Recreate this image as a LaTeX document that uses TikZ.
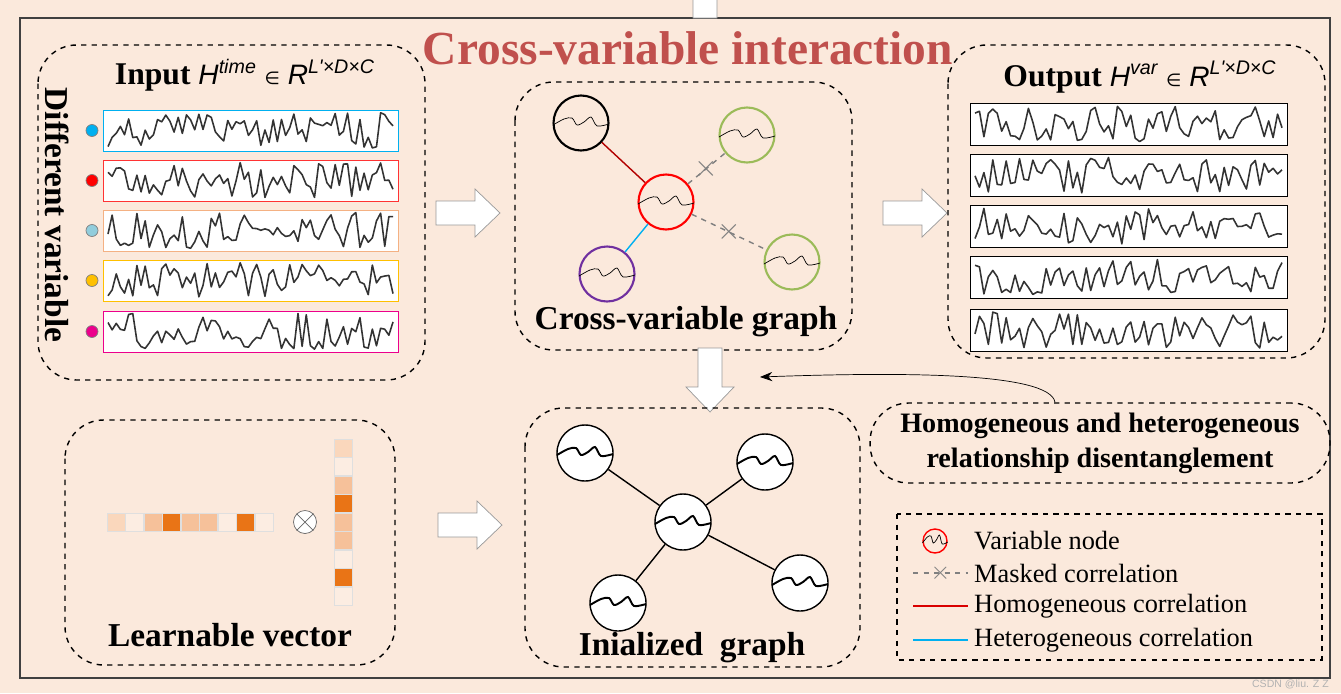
\documentclass[tikz,border=0pt]{standalone}
\usepackage{fontspec}
\setmainfont{Liberation Serif}
\newfontfamily\arialf{Liberation Sans}
\newfontfamily\djv{DejaVu Sans}
\usetikzlibrary{arrows.meta}
\definecolor{bgc}{HTML}{FBE9DC}
\definecolor{titc}{HTML}{C0504D}
\definecolor{cyn}{HTML}{00B0F0}
\definecolor{lorg}{HTML}{F4B183}
\definecolor{ylw}{HTML}{FFC000}
\definecolor{lblu}{HTML}{92CDDC}
\definecolor{grn}{HTML}{9BBB59}
\definecolor{prp}{HTML}{7030A0}
\definecolor{sq1}{HTML}{FAD7BC}
\definecolor{sq2}{HTML}{F6C19A}
\definecolor{sq3}{HTML}{E97416}
\definecolor{sq0}{HTML}{FCEDE2}
\tikzset{
  dbox/.style={draw, dashed, thick, rounded corners=22pt},
  ser/.style={draw, thick, fill=white, anchor=north west, inner sep=0pt},
  vnode/.style={circle, very thick, minimum size=1.1cm, inner sep=0pt},
  inode/.style={circle, draw, thick, fill=white, minimum size=1.12cm, inner sep=0pt},
  lbl/.style={font=\bfseries\fontsize{19}{22}\selectfont},
  sq/.style={draw=gray!25, minimum size=0.36cm, inner sep=0pt},
  barr/.style={draw=gray!80, fill=white},
}
\newcommand{\barrow}[3]{% center x, y, rotation
  \draw[barr, shift={(#1,#2)}, rotate=#3] (-32,-12) -- (7,-12) -- (7,-24) -- (32,0) -- (7,24) -- (7,12) -- (-32,12) -- cycle;}
\newcommand{\zig}[4]{% x0 x1 ycenter seed
  \pgfmathsetmacro{\zz}{#3}
  \pgfmathsetseed{#4}
  \draw[line width=0.9pt, black!80, line join=round] plot[domain=#1:#2, samples=70] (\x, {\zz+18*(2*rnd-1)});}
\newcommand{\wv}[3]{% center x, y, scale
  \draw[line width=0.4pt] plot[smooth] coordinates {(#1-#3*28,#2+2) (#1-#3*17,#2-4) (#1-#3*9,#2-5) (#1-#3*4,#2+2) (#1+#3*3,#2-1) (#1+#3*10,#2-6) (#1+#3*16,#2+3) (#1+#3*28,#2+1)};}
\begin{document}
\begin{tikzpicture}[x=0.02cm,y=-0.02cm]
\fill[bgc] (0,0) rectangle (1341,693);
\useasboundingbox (0,0) rectangle (1341,693);
\draw[thick, black!75] (20,18) rectangle (1330,678);
\barrow{705}{-14}{90}
\fill[bgc] (600,18.7) rectangle (800,40);
\node[text=titc, font=\bfseries\fontsize{27}{30}\selectfont] (title) at (688,48) {Cross-variable interaction};

% input box
\draw[dbox] (38,45) rectangle (425,380);
\node[font=\bfseries\fontsize{18}{20}\selectfont] (intext) at (245,75) {Input \arialf\itshape\mdseries\fontsize{16}{18}\selectfont H\textsuperscript{time} {\djv\upshape\fontsize{10}{12}\selectfont∈} R\textsuperscript{L'×D×C}};
\node[rotate=-90, font=\bfseries\fontsize{19}{22}\selectfont] (diffv) at (57,215) {Different variable};
\foreach \y/\c/\d/\s in {110/cyn/cyn/11, 160/red!80/red/22, 210/lorg/lblu/33, 260/ylw/ylw/44, 311/magenta/magenta/55}{
  \node[ser, draw=\c, minimum width=5.9cm, minimum height=0.82cm] (in\y) at (103,\y) {};
  \zig{108}{393}{\y+20.5}{\s}
  \node[circle, fill=\d, draw=gray, minimum size=0.24cm, inner sep=0pt] (dot\y) at (92,\y+20.5) {};
}
\barrow{468}{213}{0}

% cross-variable graph
\draw[dbox] (515,82) rectangle (852,350);
\node[vnode, draw=black] (gb) at (581,123) {};
\node[vnode, draw=grn] (gg1) at (747,135) {};
\node[vnode, draw=red] (gr) at (666,202) {};
\node[vnode, draw=prp] (gp) at (607,274) {};
\node[vnode, draw=grn] (gg2) at (792,262) {};
\wv{581}{123}{1}\wv{747}{135}{1}\wv{666}{202}{1}\wv{607}{274}{1}\wv{792}{262}{1}
\draw[red!70!black, thick] (gb) -- (gr);
\draw[cyn, thick] (gp) -- (gr);
\draw[gray, dashed, thick] (gr) -- node[font=\fontsize{16}{16}\selectfont, text=gray] {$\times$} (gg1);
\draw[gray, dashed, thick] (gr) -- node[font=\fontsize{16}{16}\selectfont, text=gray] {$\times$} (gg2);
\node[lbl] (cvg) at (686,322) {Cross-variable graph};
\barrow{915}{213}{0}

% output box
\draw[dbox] (948,45) rectangle (1325,358);
\node[font=\bfseries\fontsize{18}{20}\selectfont] (outtext) at (1140,77) {Output \arialf\itshape\mdseries\fontsize{16}{18}\selectfont H\textsuperscript{var} {\djv\upshape\fontsize{10}{12}\selectfont∈} R\textsuperscript{L'×D×C}};
\foreach \y/\s in {103/66, 154/77, 205/88, 256/99, 309/111}{
  \node[ser, draw=black, minimum width=6.34cm, minimum height=0.84cm] (out\y) at (970,\y) {};
  \zig{975}{1282}{\y+21}{\s}
}

% up arrow
\barrow{710}{380}{-90}

% homogeneous
\node[dbox, draw, align=center, font=\bfseries\fontsize{16}{20}\selectfont, minimum width=9.2cm, minimum height=1.6cm] (homo) at (1100,443) {Homogeneous and heterogeneous\\relationship disentanglement};
\draw[-{Stealth[length=7pt]}, thin] (homo.north) ++(-45,0) coordinate (hs) .. controls (1050,372) and (900,372) .. (760,377);

% learnable vector
\draw[dbox] (65,420) rectangle (395,665);
\foreach \i/\c in {0/sq1,1/sq0,2/sq2,3/sq3,4/sq2,5/sq2,6/sq0,7/sq3,8/sq0}{
  \node[sq, fill=\c] (h\i) at (116+\i*18.5,522) {};
  \node[sq, fill=\c] (v\i) at (343,448+\i*18.5) {};
}
\node[circle, draw=gray!80!black, fill=white, minimum size=0.46cm, inner sep=0pt] (otimes) at (305,522) {};
\draw[gray!80!black] (otimes.45) -- (otimes.225) (otimes.135) -- (otimes.315);
\node[lbl] (lv) at (230,635) {Learnable vector};
\barrow{470}{525}{0}

% initialized graph
\draw[dbox] (525,408) rectangle (860,667);
\node[inode] (i1) at (585,453) {};
\node[inode] (i2) at (765,462) {};
\node[inode] (i0) at (683,522) {};
\node[inode] (i3) at (618,603) {};
\node[inode] (i4) at (800,583) {};
\foreach \n in {i1,i2,i3,i4} \draw[thick] (i0) -- (\n);
\foreach \x/\y in {585/453,765/462,683/522,618/603,800/583}{\draw[line width=1.1pt] plot[smooth] coordinates {(\x-28,\y+2) (\x-17,\y-4) (\x-9,\y-5) (\x-4,\y+2) (\x+3,\y-1) (\x+10,\y-6) (\x+16,\y+3) (\x+28,\y+1)};}
\node[lbl] (ig) at (692,648) {Inialized\ \ graph};

% legend
\draw[dashed, thick] (897,514) rectangle (1322,660);
\node[circle, draw=red, thick, minimum size=0.48cm, inner sep=0pt] (lgc) at (935,541) {};
\wv{935}{541}{0.45}
\coordinate (l1a) at (913,573); \coordinate (l1b) at (968,573);
\draw[gray, dashed, thick] (l1a) -- node[text=gray, font=\fontsize{14}{14}\selectfont] {$\times$} (l1b);
\coordinate (l2a) at (913,606); \coordinate (l2b) at (968,606);
\draw[red!85!black, thick] (l2a) -- (l2b);
\coordinate (l3a) at (913,640); \coordinate (l3b) at (968,640);
\draw[cyn, thick] (l3a) -- (l3b);
\foreach \y/\t in {541/Variable node, 573/Masked correlation, 606/Homogeneous correlation, 640/Heterogeneous correlation}
  \node[anchor=west, font=\fontsize{15}{17}\selectfont] at (968,\y) {\t};
\node[anchor=east, text=gray!60, font=\arialf\fontsize{6}{7}\selectfont] (wm) at (1335,684) {CSDN @liu. Z Z};
\end{tikzpicture}
\end{document}
